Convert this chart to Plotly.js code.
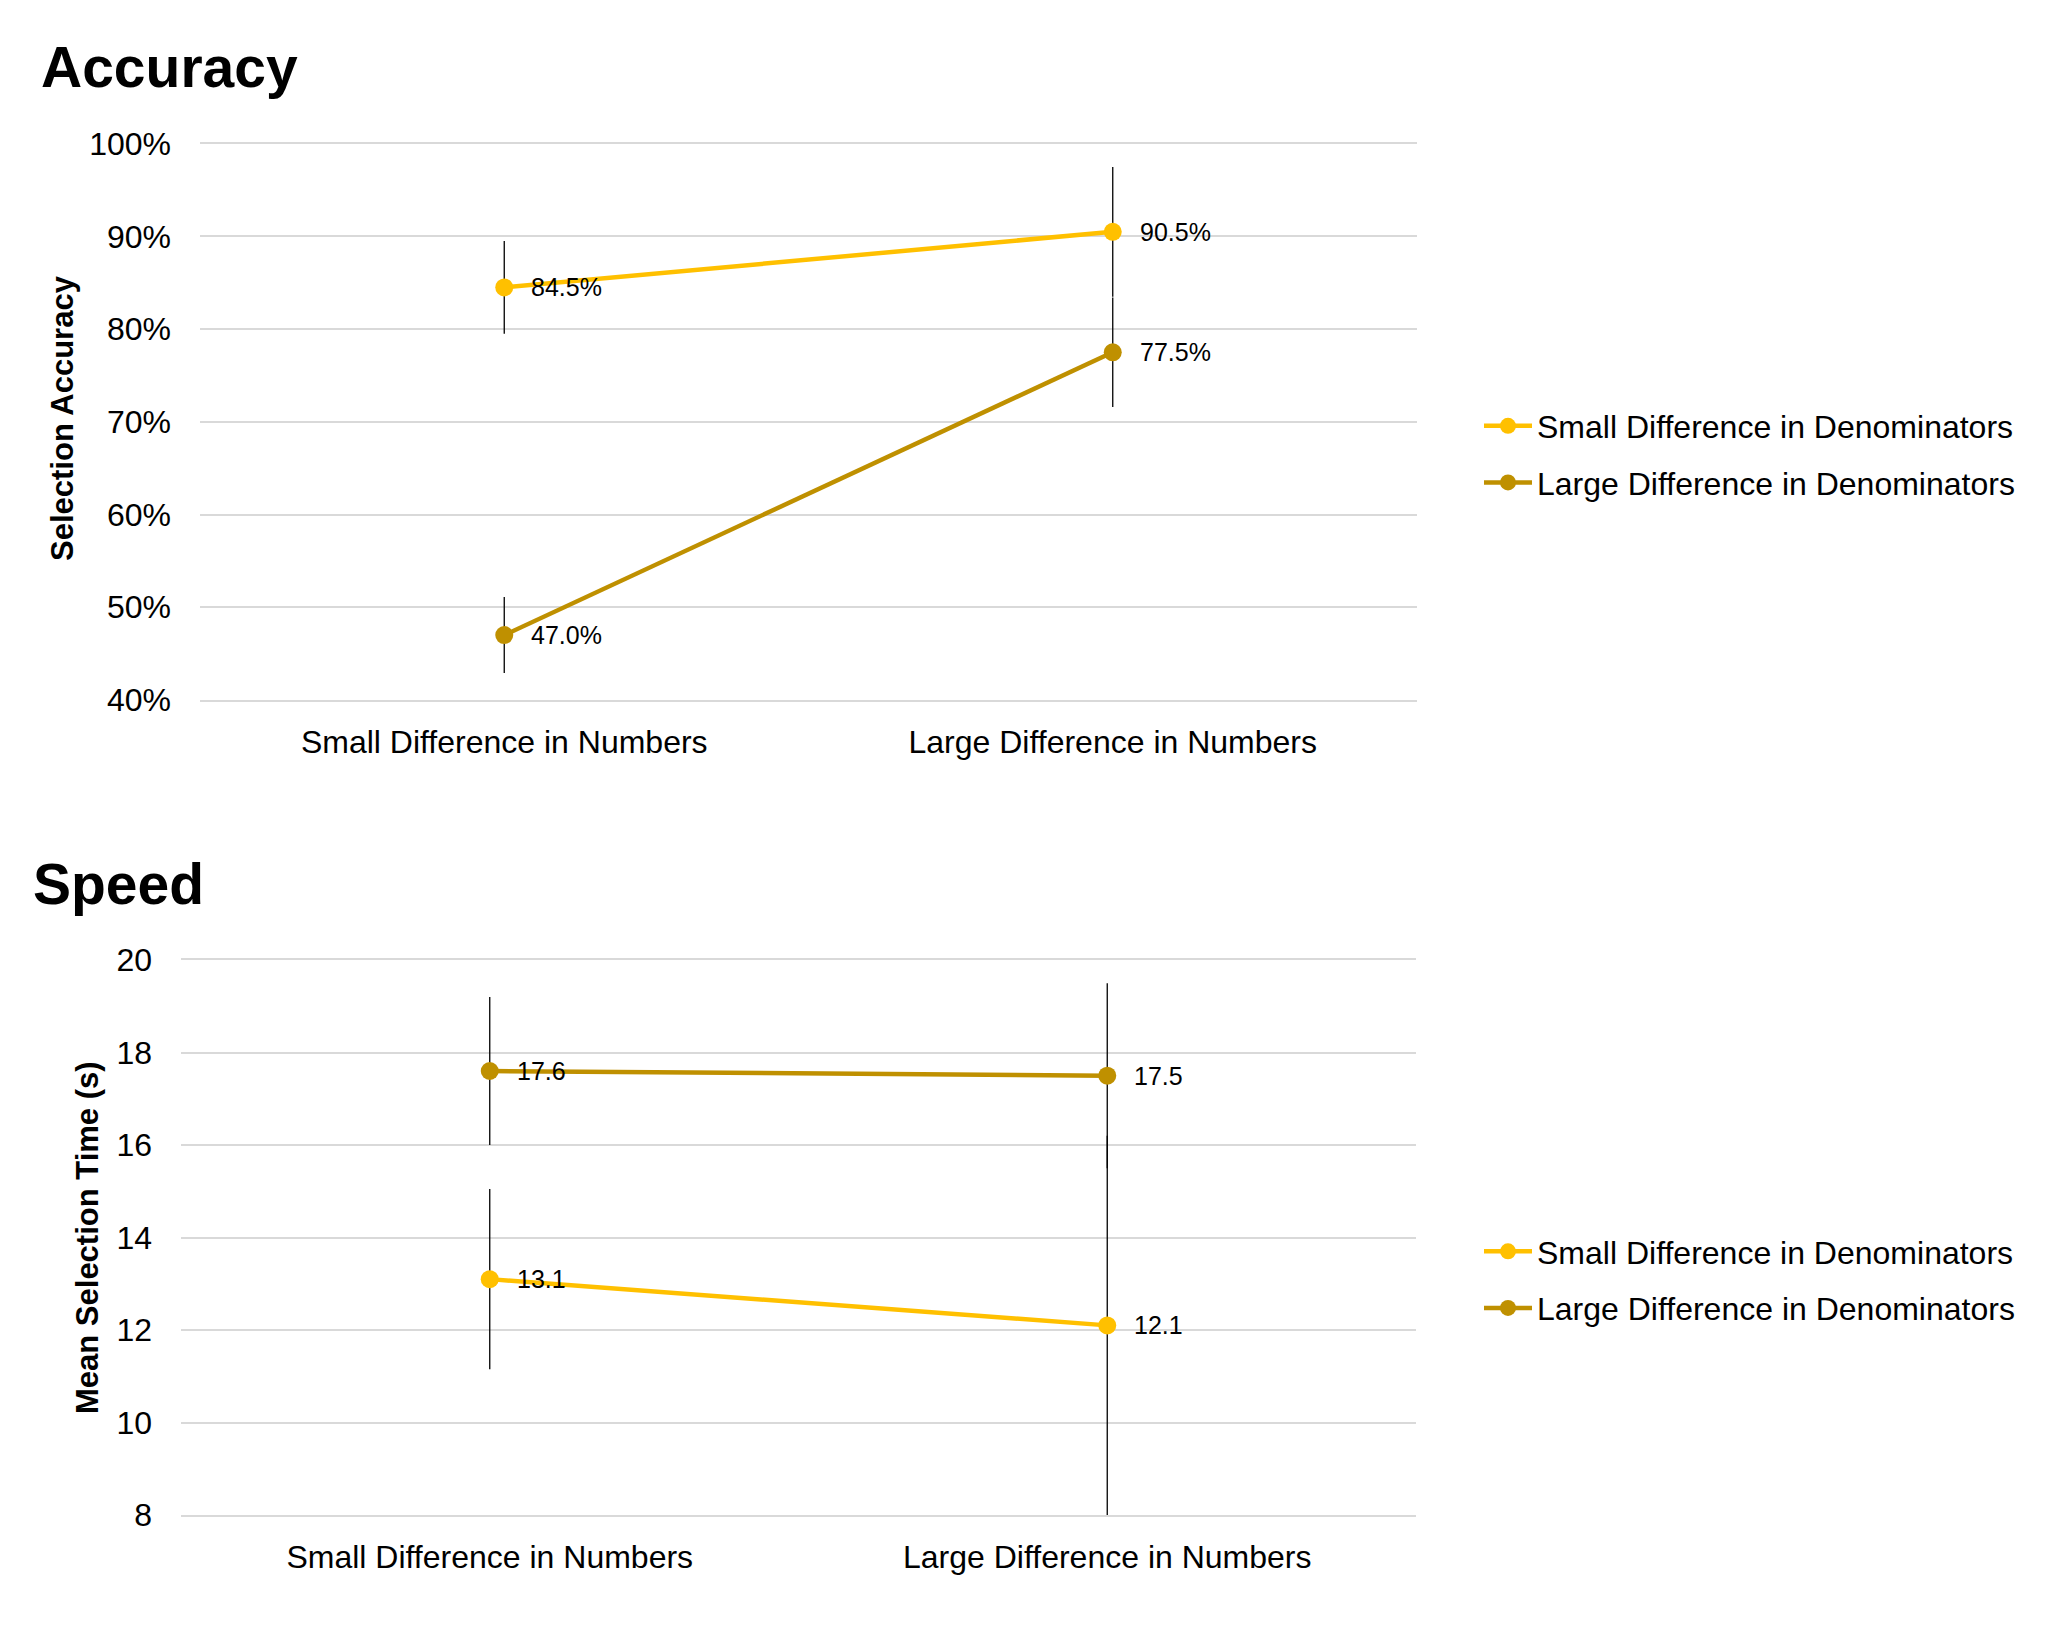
<!DOCTYPE html>
<html>
<head>
<meta charset="utf-8">
<script src="https://cdn.plot.ly/plotly-3.0.1.min.js"></script>
<style>
  html, body { margin: 0; padding: 0; background: #ffffff; }
  #chart { width: 2048px; height: 1638px; }
</style>
</head>
<body>
<div id="chart"></div>
<script>
// Conditions on the x axis (shared by both panels)
const categories = ['Small Difference in Numbers', 'Large Difference in Numbers'];
const seriesNames = ['Small Difference in Denominators', 'Large Difference in Denominators'];

// Accuracy panel: mean selection accuracy (%) and error half-widths
const accuracySmall = [84.5, 90.5];
const accuracySmallErr = [5.0, 7.0];
const accuracyLarge = [47.0, 77.5];
const accuracyLargeErr = [4.1, 5.9];

// Speed panel: mean selection time (s) and error half-widths
const speedSmall = [13.1, 12.1];
const speedSmallErr = [1.95, 4.1];
const speedLarge = [17.6, 17.5];
const speedLargeErr = [1.6, 2.0];

const W = 2048, H = 1638;
const FONT = 'Liberation Sans, Arial, Helvetica, sans-serif';
const COLORS = ['#FFC000', '#BF9000'];

function px(v) { return v / W; }
function py(v) { return 1 - v / H; }

function lineTrace(y, err, idx, xa, ya, legendId) {
  return {
    type: 'scatter',
    mode: 'lines+markers',
    name: seriesNames[idx],
    legendgroup: legendId + '-' + idx,
    x: categories,
    y: y,
    xaxis: xa,
    yaxis: ya,
    legend: legendId,
    line: { color: COLORS[idx], width: 4.5 },
    marker: { color: COLORS[idx], size: 18 },
    error_y: { type: 'data', array: err, visible: true, color: '#000000', thickness: 1.3, width: 0 },
    hoverinfo: 'x+y+name'
  };
}

const traces = [
  lineTrace(accuracySmall, accuracySmallErr, 0, 'x', 'y', 'legend'),
  lineTrace(accuracyLarge, accuracyLargeErr, 1, 'x', 'y', 'legend'),
  lineTrace(speedSmall, speedSmallErr, 0, 'x2', 'y2', 'legend2'),
  lineTrace(speedLarge, speedLargeErr, 1, 'x2', 'y2', 'legend2')
];

// Value labels to the right of each point
const annotations = [];
function addLabels(values, xref, yref, fmt) {
  values.forEach((v, i) => {
    annotations.push({
      x: categories[i], y: v, xref: xref, yref: yref,
      text: fmt(v), showarrow: false,
      xanchor: 'left', yanchor: 'middle', xshift: 25,
      font: { family: FONT, size: 25, color: '#000000' }
    });
  });
}
addLabels(accuracySmall, 'x', 'y', v => v.toFixed(1) + '%');
addLabels(accuracyLarge, 'x', 'y', v => v.toFixed(1) + '%');
addLabels(speedSmall, 'x2', 'y2', v => v.toFixed(1));
addLabels(speedLarge, 'x2', 'y2', v => v.toFixed(1));

// Panel headings
annotations.push({
  text: '<b>Accuracy</b>', xref: 'paper', yref: 'paper', x: px(39), y: py(67.5),
  xanchor: 'left', yanchor: 'middle', showarrow: false,
  font: { family: FONT, size: 57, color: '#000000' }
});
annotations.push({
  text: '<b>Speed</b>', xref: 'paper', yref: 'paper', x: px(31), y: py(884),
  xanchor: 'left', yanchor: 'middle', showarrow: false,
  font: { family: FONT, size: 57, color: '#000000' }
});

// Vertical axis titles
annotations.push({
  text: '<b>Selection Accuracy</b>', xref: 'paper', yref: 'paper', x: px(63), y: py(418),
  xanchor: 'center', yanchor: 'middle', textangle: -90, showarrow: false,
  font: { family: FONT, size: 31, color: '#000000' }
});
annotations.push({
  text: '<b>Mean Selection Time (s)</b>', xref: 'paper', yref: 'paper', x: px(87), y: py(1238),
  xanchor: 'center', yanchor: 'middle', textangle: -90, showarrow: false,
  font: { family: FONT, size: 31, color: '#000000' }
});

const tickFont = { family: FONT, size: 32, color: '#000000' };
const GRID = '#d9d9d9';

// The x-axis line (mirrored to the top) supplies the outermost grid rules
const xCommon = {
  type: 'category',
  range: [-0.5, 1.5],
  showgrid: false,
  zeroline: false,
  showline: true,
  mirror: true,
  linecolor: GRID,
  linewidth: 2,
  ticks: '',
  tickfont: tickFont,
  ticklabelstandoff: 13,
  fixedrange: true
};
const yCommon = {
  showgrid: true,
  gridcolor: GRID,
  gridwidth: 2,
  zeroline: false,
  showline: false,
  ticks: '',
  tickfont: tickFont,
  ticklabelstandoff: 28,
  fixedrange: true
};

const legendCommon = {
  xanchor: 'left', yanchor: 'middle',
  font: { family: FONT, size: 32, color: '#000000' },
  bgcolor: 'rgba(0,0,0,0)',
  itemwidth: 48,
  tracegroupgap: 12,
  traceorder: 'grouped',
  itemclick: false, itemdoubleclick: false
};

const layout = {
  width: W,
  height: H,
  margin: { l: 0, r: 0, t: 0, b: 0 },
  paper_bgcolor: '#ffffff',
  plot_bgcolor: '#ffffff',
  font: { family: FONT, color: '#000000' },
  showlegend: true,
  xaxis: Object.assign({}, xCommon, { domain: [px(200), px(1417)], anchor: 'y' }),
  yaxis: Object.assign({}, yCommon, {
    domain: [py(700), py(143.7)], anchor: 'x',
    range: [40, 100], dtick: 10, tick0: 40, ticksuffix: '%'
  }),
  xaxis2: Object.assign({}, xCommon, { domain: [px(181), px(1416)], anchor: 'y2' }),
  yaxis2: Object.assign({}, yCommon, {
    domain: [py(1515), py(960)], anchor: 'x2',
    range: [8, 20], dtick: 2, tick0: 8
  }),
  legend: Object.assign({}, legendCommon, { x: px(1479), y: py(454.5) }),
  legend2: Object.assign({}, legendCommon, { x: px(1479), y: py(1280) }),
  annotations: annotations
};

Plotly.newPlot('chart', traces, layout, { displayModeBar: false });
</script>
</body>
</html>
